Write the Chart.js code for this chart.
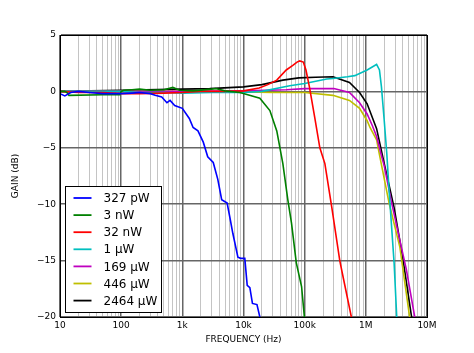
<!DOCTYPE html>
<html>
<head>
<meta charset="utf-8">
<script src="https://cdn.jsdelivr.net/npm/chart.js@4"></script>
<style>
  body { margin: 0; background: #fff; }
</style>
</head>
<body>
<canvas id="gain_graph" width="474" height="353"></canvas>
<script>
// readings, frequency in Hz and gain in dB
var labels = ["327 pW", "3 nW", "32 nW", "1 \u03bcW", "169 \u03bcW", "446 \u03bcW", "2464 \u03bcW"];
var colors = ["#0000ff", "#008000", "#ff0000", "#00bfbf", "#bf00bf", "#bfbf00", "#000000"];

var freq327p = [10, 12, 15, 20, 30, 50, 70, 100, 150, 200, 300, 360, 460, 560, 630, 750, 1000, 1300, 1500, 1800, 2200, 2600, 3200, 3800, 4400, 5400, 6000, 6700, 8100, 9000, 10500, 11500, 12700, 14000, 16600, 18500, 21000];
var gain327p = [-0.2, -0.4, -0.1, 0, -0.1, -0.2, -0.2, -0.2, -0.15, -0.1, -0.2, -0.35, -0.5, -1.0, -0.8, -1.25, -1.5, -2.4, -3.2, -3.5, -4.5, -5.8, -6.3, -7.8, -9.6, -9.9, -11.2, -12.6, -14.7, -14.8, -14.8, -17.2, -17.4, -18.8, -18.9, -20, -21];

var freq3n = [10, 12, 13, 14, 50, 95, 100, 110, 150, 200, 300, 500, 700, 900, 1500, 3000, 3500, 5000, 8700, 11000, 18500, 27000, 35000, 44000, 53000, 61000, 73000, 89000, 99000, 105000];
var gain3n = [0, 0, -0.1, -0.35, -0.3, -0.3, 0, 0.1, 0.15, 0.2, 0.1, 0.15, 0.35, 0.1, 0.05, 0.2, 0.25, 0.05, -0.1, -0.25, -0.6, -1.7, -3.5, -6.4, -9.6, -11.7, -15.2, -17.3, -20, -22];

var freq32n = [10, 20, 50, 100, 200, 500, 1000, 2000, 5000, 10000, 18000, 25000, 35000, 50000, 64000, 75000, 83000, 95000, 105000, 120000, 146000, 177000, 214000, 278000, 375000, 412000, 580000, 650000];
var gain32n = [0, -0.1, -0.1, -0.2, -0.2, -0.15, -0.1, 0, 0, 0.05, 0.3, 0.6, 1.0, 1.9, 2.3, 2.6, 2.7, 2.6, 1.9, 0.35, -2.3, -5, -6.4, -10.3, -15, -16.1, -20, -22];

var freq1u = [10, 100, 200, 500, 1000, 3000, 10000, 20000, 57000, 100000, 230000, 290000, 500000, 660000, 1050000, 1400000, 1500000, 1670000, 1800000, 2000000, 2200000, 2400000, 2900000, 3200000, 3500000];
var gain1u = [0, 0, -0.1, -0.1, -0.15, -0.1, -0.1, 0, 0.5, 0.7, 1.1, 1.15, 1.3, 1.4, 1.9, 2.3, 2.4, 1.9, 0.4, -2.6, -5.5, -8.8, -15.2, -20, -23];

var freq169u = [10, 100, 1000, 10000, 50000, 100000, 300000, 540000, 790000, 1050000, 1270000, 1500000, 1800000, 2000000, 2650000, 3600000, 4600000, 6300000, 7000000];
var gain169u = [0, 0, 0, 0.05, 0.15, 0.25, 0.25, -0.1, -1, -2, -3.0, -4.0, -5.7, -6.6, -9.9, -13.2, -15.8, -20, -21.5];

var freq446u = [10, 100, 1000, 10000, 30000, 100000, 290000, 540000, 790000, 1050000, 1170000, 1500000, 1670000, 2400000, 3600000, 5200000, 6000000];
var gain446u = [0, 0, 0, -0.05, -0.1, -0.1, -0.35, -0.8, -1.5, -2.6, -3.2, -4.3, -5.6, -9.9, -13.8, -20, -22];

var freq2464u = [10, 100, 1000, 2800, 10000, 20000, 44000, 80000, 150000, 290000, 540000, 790000, 1050000, 1500000, 2000000, 2900000, 4000000, 5600000, 6500000];
var gain2464u = [0, 0.1, 0.2, 0.25, 0.4, 0.6, 1.0, 1.2, 1.25, 1.3, 0.8, -0.1, -1.1, -3.3, -6.4, -10.3, -14.7, -20, -22.5];

var freqs = [freq327p, freq3n, freq32n, freq1u, freq169u, freq446u, freq2464u];
var gains = [gain327p, gain3n, gain32n, gain1u, gain169u, gain446u, gain2464u];

var decadeLabels = { 10: "10", 100: "100", 1000: "1k", 10000: "10k", 100000: "100k", 1000000: "1M", 10000000: "10M" };
var yTicks = [5, 0, -5, -10, -15, -20];

function isDecade(v) {
  return decadeLabels[Math.round(v)] !== undefined;
}

var datasets = [];
for (var i in labels) {
  var pts = [];
  for (var j in freqs[i]) {
    pts.push({ x: freqs[i][j], y: gains[i][j] });
  }
  datasets.push({
    label: labels[i],
    data: pts,
    borderColor: colors[i],
    backgroundColor: colors[i],
    borderWidth: 1.6,
    pointRadius: 0,
    fill: false,
    tension: 0
  });
}

// legend box + frame drawn inside the plot
var innerLegend = {
  id: "innerLegend",
  afterDraw: function(chart) {
    var ctx = chart.ctx;
    var ca = chart.chartArea;
    ctx.save();
    ctx.strokeStyle = "#000";
    ctx.lineWidth = 1;
    ctx.strokeRect(Math.round(ca.left) + 0.5, Math.round(ca.top) + 0.5, Math.round(ca.right - ca.left), Math.round(ca.bottom - ca.top));

    var bx = Math.round(ca.left) + 5.5, by = 186.5, bw = 96, bh = 126;
    ctx.fillStyle = "#fff";
    ctx.fillRect(bx, by, bw, bh);
    ctx.strokeRect(bx, by, bw, bh);
    ctx.font = "12px 'DejaVu Sans'";
    ctx.textBaseline = "middle";
    for (var k = 0; k < labels.length; k++) {
      var yy = 198 + k * 17.1;
      ctx.strokeStyle = colors[k];
      ctx.lineWidth = 1.8;
      ctx.beginPath();
      ctx.moveTo(bx + 8, yy);
      ctx.lineTo(bx + 26, yy);
      ctx.stroke();
      ctx.fillStyle = "#000";
      ctx.fillText(labels[k], bx + 38, yy + 1);
    }
    ctx.restore();
  }
};

var ctx = document.getElementById("gain_graph");
var GainGraph = new Chart(ctx, {
  type: "line",
  data: { datasets: datasets },
  options: {
    responsive: false,
    animation: false,
    layout: { padding: { left: 0, right: 47, top: 35, bottom: 0 } },
    plugins: { legend: { display: false }, tooltip: { enabled: false } },
    scales: {
      x: {
        type: "logarithmic",
        min: 10,
        max: 10000000,
        afterBuildTicks: function(scale) {
          var t = [];
          for (var d = 10; d < 10000000; d *= 10) {
            for (var m = 1; m < 10; m++) t.push({ value: d * m });
          }
          t.push({ value: 10000000 });
          scale.ticks = t;
        },
        afterFit: function(scale) { scale.height = 36; },
        ticks: {
          autoSkip: false,
          maxRotation: 0,
          padding: 3,
          color: "#000",
          font: { family: "DejaVu Sans", size: 9 },
          callback: function(v) {
            var l = decadeLabels[Math.round(v)];
            return l === undefined ? "" : l;
          }
        },
        grid: {
          drawTicks: false,
          color: function(c) { return c.tick && isDecade(c.tick.value) ? "#666" : "#c4c4c4"; },
          lineWidth: function(c) { return c.tick && isDecade(c.tick.value) ? 1.5 : 1; }
        },
        border: { display: true, color: "#000" },
        title: {
          display: true,
          text: "FREQUENCY (Hz)",
          color: "#000",
          font: { family: "DejaVu Sans", size: 9 },
          padding: { top: 0, bottom: 8 }
        }
      },
      y: {
        min: -20,
        max: 5,
        afterBuildTicks: function(scale) {
          scale.ticks = yTicks.map(function(v) { return { value: v }; });
        },
        afterFit: function(scale) { scale.width = 60; },
        ticks: {
          padding: 4,
          color: "#000",
          font: { family: "DejaVu Sans", size: 9 },
          callback: function(v) { return v < 0 ? "\u2212" + Math.abs(v) : "" + v; }
        },
        grid: { drawTicks: false, color: "#666", lineWidth: 1.5 },
        border: { display: true, color: "#000" },
        title: {
          display: true,
          text: "GAIN (dB)",
          color: "#000",
          font: { family: "DejaVu Sans", size: 9 },
          padding: { top: 10, bottom: 0 }
        }
      }
    }
  },
  plugins: [innerLegend]
});
</script>
</body>
</html>
